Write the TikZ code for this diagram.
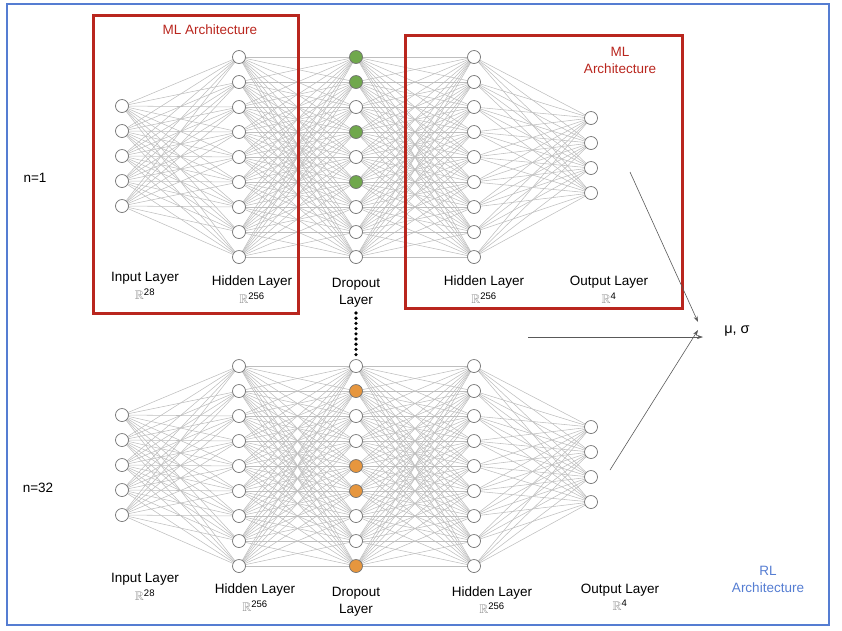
\documentclass[tikz,border=0pt]{standalone}
\usepackage{amssymb}
\usepackage{fontspec}
\setmainfont{Liberation Sans}
\usetikzlibrary{arrows.meta}
\pgfdeclarelayer{bg}
\pgfsetlayers{bg,main}
\definecolor{mlred}{RGB}{185,38,30}
\definecolor{rlblue}{RGB}{85,125,210}
\definecolor{dgreen}{RGB}{112,168,76}
\definecolor{dorange}{RGB}{230,150,62}
\definecolor{edgegray}{RGB}{190,190,190}
\definecolor{rgray}{RGB}{140,140,140}
\newcommand{\RR}[1]{{\color{rgray}$\mathbb{R}$}\textsuperscript{\fontsize{9.5}{10}\selectfont #1}}
\begin{document}
\begin{tikzpicture}[x=1pt,y=-1pt,
  neuron/.style={circle,draw=black!55,fill=white,minimum size=13pt,inner sep=0pt,line width=0.7pt},
  conn/.style={draw=edgegray,line width=0.55pt},
  mlbox/.style={draw=mlred,line width=3pt},
  lbl/.style={align=center,font=\fontsize{13.5}{17}\selectfont,text=black,inner sep=0pt},
  rlbl/.style={align=center,font=\fontsize{12.5}{11}\selectfont,inner sep=0pt},
  ml/.style={align=center,font=\fontsize{13.5}{17}\selectfont,text=mlred,inner sep=0pt},
  arr/.style={draw=black!65,line width=0.6pt,-{Stealth[length=6pt,width=4pt]}}]
\useasboundingbox (0,0) rectangle (842,630);
\draw[rlblue,line width=2pt] (7,4) rectangle (829,625);

% networks: top (offset 0) and bottom (offset 309)
\foreach \net/\off in {T/0,B/309}{
  \foreach \i in {1,...,5}
    \node[neuron] (\net1-\i) at (122,{\off+81+25*\i}) {};
  \foreach \i in {1,...,9}
    \node[neuron] (\net2-\i) at (239,{\off+32+25*\i}) {};
  \foreach \i in {1,...,9}
    \node[neuron] (\net4-\i) at (474,{\off+32+25*\i}) {};
  \foreach \i in {1,...,4}
    \node[neuron] (\net5-\i) at (591,{\off+93+25*\i}) {};
}
\foreach \i/\c in {1/dgreen,2/dgreen,3/white,4/dgreen,5/white,6/dgreen,7/white,8/white,9/white}
  \node[neuron,fill=\c] (T3-\i) at (356,{32+25*\i}) {};
\foreach \i/\c in {1/white,2/dorange,3/white,4/white,5/dorange,6/dorange,7/white,8/white,9/dorange}
  \node[neuron,fill=\c] (B3-\i) at (356,{341+25*\i}) {};

\begin{pgfonlayer}{bg}
\foreach \net in {T,B}{
  \foreach \i in {1,...,5}\foreach \j in {1,...,9}
    \draw[conn] (\net1-\i.center) -- (\net2-\j.center);
  \foreach \i in {1,...,9}\foreach \j in {1,...,9}{
    \draw[conn] (\net2-\i.center) -- (\net3-\j.center);
    \draw[conn] (\net3-\i.center) -- (\net4-\j.center);}
  \foreach \i in {1,...,9}\foreach \j in {1,...,4}
    \draw[conn] (\net4-\i.center) -- (\net5-\j.center);
}
\end{pgfonlayer}

% dotted link between dropout layers
\coordinate (dtop) at (356,313);
\coordinate (dbot) at (356,355);
\draw[line width=3.6pt,line cap=round,dash pattern=on 0pt off 5.2pt] (dtop) -- (dbot);

% red boxes
\draw[mlbox] (93,15) rectangle (298,313);
\draw[mlbox] (405,35) rectangle (682,308);
\node[ml] (ml1) at (210,30) {ML Architecture};
\node[ml] (ml2) at (620,60) {ML\\Architecture};

% top labels
\node[lbl] (tin) at (145,278) {Input Layer};
\node[rlbl] (tinr) at (145,294) {\RR{28}};
\node[lbl] (th1) at (252,282) {Hidden Layer};
\node[rlbl] (th1r) at (252,298) {\RR{256}};
\node[lbl] (tdo) at (356,293) {Dropout\\Layer};
\node[lbl] (th2) at (484,282) {Hidden Layer};
\node[rlbl] (th2r) at (484,298) {\RR{256}};
\node[lbl] (tout) at (609,282) {Output Layer};
\node[rlbl] (toutr) at (609,298) {\RR{4}};

% bottom labels
\node[lbl] (bin) at (145,579) {Input Layer};
\node[rlbl] (binr) at (145,595) {\RR{28}};
\node[lbl] (bh1) at (255,590) {Hidden Layer};
\node[rlbl] (bh1r) at (255,606) {\RR{256}};
\node[lbl] (bdo) at (356,602) {Dropout\\Layer};
\node[lbl] (bh2) at (492,593) {Hidden Layer};
\node[rlbl] (bh2r) at (492,608) {\RR{256}};
\node[lbl] (bout) at (620,590) {Output Layer};
\node[rlbl] (boutr) at (620,605) {\RR{4}};

\node[align=center,font=\fontsize{13.5}{17}\selectfont,text=rlblue,inner sep=0pt] (rl) at (768,579) {RL\\Architecture};

\node[lbl] (n1) at (35,178) {n=1};
\node[lbl] (n32) at (38,488) {n=32};
\node[lbl,font=\fontsize{14.5}{17}\selectfont] (mu) at (737,331) {μ, σ};

\coordinate (a1) at (630,172);
\coordinate (e1) at (698,322);
\coordinate (a2) at (528,337);
\coordinate (e2) at (703,337);
\coordinate (a3) at (610,470);
\coordinate (e3) at (698,330);
\draw[arr] (a1) -- (e1);
\draw[arr] (a2) -- (e2);
\draw[arr] (a3) -- (e3);
\end{tikzpicture}
\end{document}
